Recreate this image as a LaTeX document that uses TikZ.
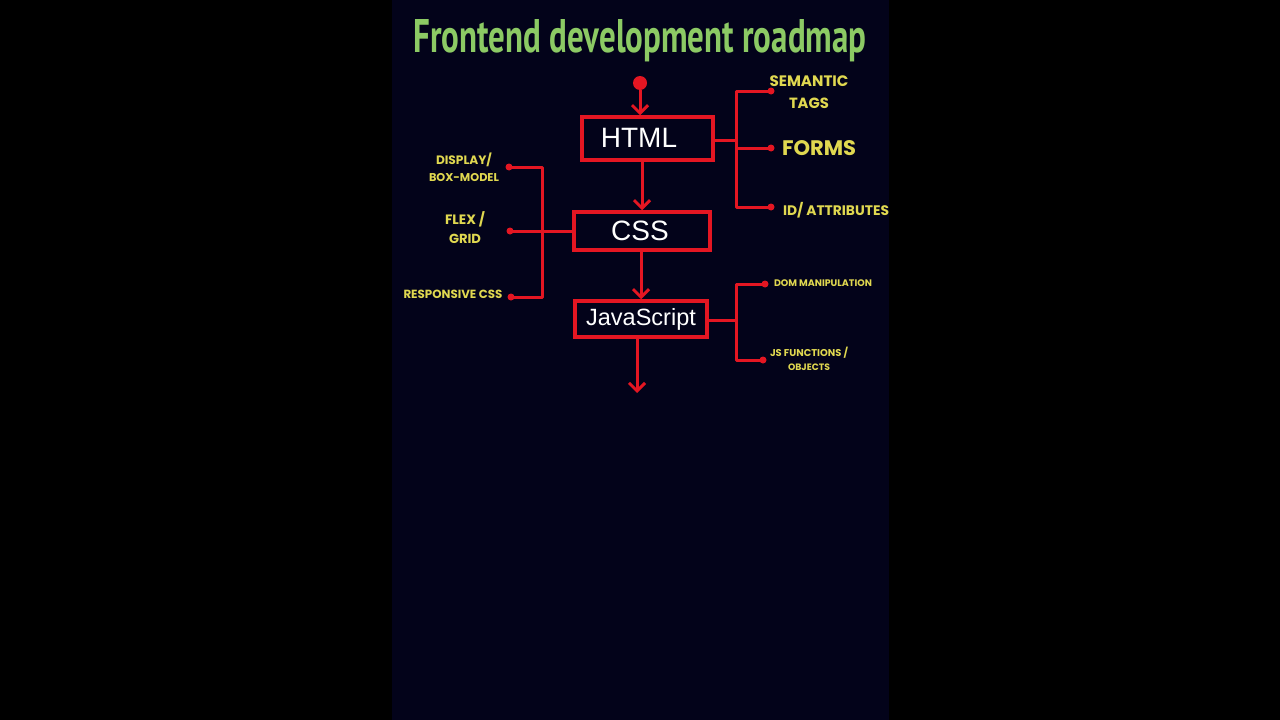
\documentclass[tikz,border=0pt]{standalone}
\usepackage{fontspec}
\setmainfont{Liberation Sans}
\newfontfamily\titlefont{PT Sans}
\newfontfamily\lblfont{Poppins}
\usetikzlibrary{arrows.meta}
\definecolor{panel}{RGB}{3,3,26}
\definecolor{rd}{RGB}{228,22,34}
\definecolor{ttl}{RGB}{140,202,100}
\definecolor{yl}{RGB}{224,216,80}
\newcommand{\fitw}[2]{\resizebox{#1pt}{!}{#2}}
\begin{document}
\begin{tikzpicture}[x=1pt,y=-1pt,
  ln/.style={draw=rd,line width=3pt,line join=round},
  arr/.style={ln,-{Straight Barb[length=8pt,width=16pt]}},
  boxn/.style={draw=rd,line width=3.5pt,inner sep=0pt},
  boxt/.style={text=white,inner sep=0pt},
  dotn/.style={circle,fill=rd,inner sep=0pt,minimum size=7pt},
  lbl/.style={text=yl,inner sep=0pt,align=center,font=\lblfont\bfseries}]
\useasboundingbox (0,0) rectangle (1280,720);
\fill[black] (0,0) rectangle (1280,720);
\fill[panel] (392,0) rectangle (889,720);
% title
\node[text=ttl,inner sep=0pt,anchor=base] (title) at (640,52)
  {\resizebox{453pt}{33pt}{\titlefont\bfseries Frontend development roadmap}};
% boxes
\node[boxn,minimum width=131pt,minimum height=43pt] (html) at (647.5,138.5) {};
\node[boxt,font=\fontsize{28}{30}\selectfont] (htmlt) at (639,138) {HTML};
\node[boxn,minimum width=136pt,minimum height=38pt] (css) at (642,231) {};
\node[boxt,font=\fontsize{28}{30}\selectfont] (csst) at (640,231) {CSS};
\node[boxn,minimum width=132pt,minimum height=36pt] (js) at (641,319) {};
\node[boxt,font=\fontsize{23.5}{26}\selectfont] (jst) at (641,319) {JavaScript};
% start / end
\node[circle,fill=rd,inner sep=0pt,minimum size=14pt] (start) at (640,83) {};
\coordinate (end) at (637,393);
\draw[arr] (start) -- (html.north -| start);
\draw[arr] (html.south -| css.north) -- (css.north);
\draw[arr] (css.south -| js.north) -- (js.north);
\draw[arr] (js.south -| end) -- (end);
% HTML branches
\coordinate (th) at (736,140);
\node[dotn] (d1) at (771,91) {};
\node[dotn] (d2) at (771,148) {};
\node[dotn] (d3) at (771,207) {};
\draw[ln] (html.east |- th) -- (th);
\draw[ln] (th) |- (d1.center);
\draw[ln] (th) |- (d2.center);
\draw[ln] (th) |- (d3.center);
% CSS branches
\coordinate (tc) at (542,231);
\node[dotn] (d4) at (509,167) {};
\node[dotn] (d5) at (510,231) {};
\node[dotn] (d6) at (511,297) {};
\draw[ln] (css.west) -- (tc);
\draw[ln] (tc) |- (d4.center);
\draw[ln] (tc) |- (d5.center);
\draw[ln] (tc) |- (d6.center);
% JS branches
\coordinate (tj) at (736,320);
\node[dotn] (d7) at (765,284) {};
\node[dotn] (d8) at (763,360) {};
\draw[ln] (js.east |- tj) -- (tj);
\draw[ln] (tj) |- (d7.center);
\draw[ln] (tj) |- (d8.center);
% labels
\node[lbl] (l1a) at (809,81) {\fitw{79}{SEMANTIC}};
\node[lbl] (l1b) at (809,103) {\fitw{40}{TAGS}};
\node[lbl] (l2) at (819,148) {\fitw{74}{FORMS}};
\node[lbl] (l3) at (836,210) {\fitw{106}{ID/ ATTRIBUTES}};
\node[lbl] (l4a) at (464,160) {\fitw{56}{DISPLAY/}};
\node[lbl] (l4b) at (464,178) {\fitw{70}{BOX-MODEL}};
\node[lbl] (l5a) at (465,219) {\fitw{40}{FLEX /}};
\node[lbl] (l5b) at (465,239) {\fitw{32}{GRID}};
\node[lbl] (l6) at (453,294) {\fitw{99}{RESPONSIVE CSS}};
\node[lbl] (l7) at (823,283) {\fitw{98}{DOM MANIPULATION}};
\node[lbl] (l8a) at (809,353) {\fitw{78}{JS FUNCTIONS /}};
\node[lbl] (l8b) at (809,367) {\fitw{42}{OBJECTS}};
\end{tikzpicture}
\end{document}
